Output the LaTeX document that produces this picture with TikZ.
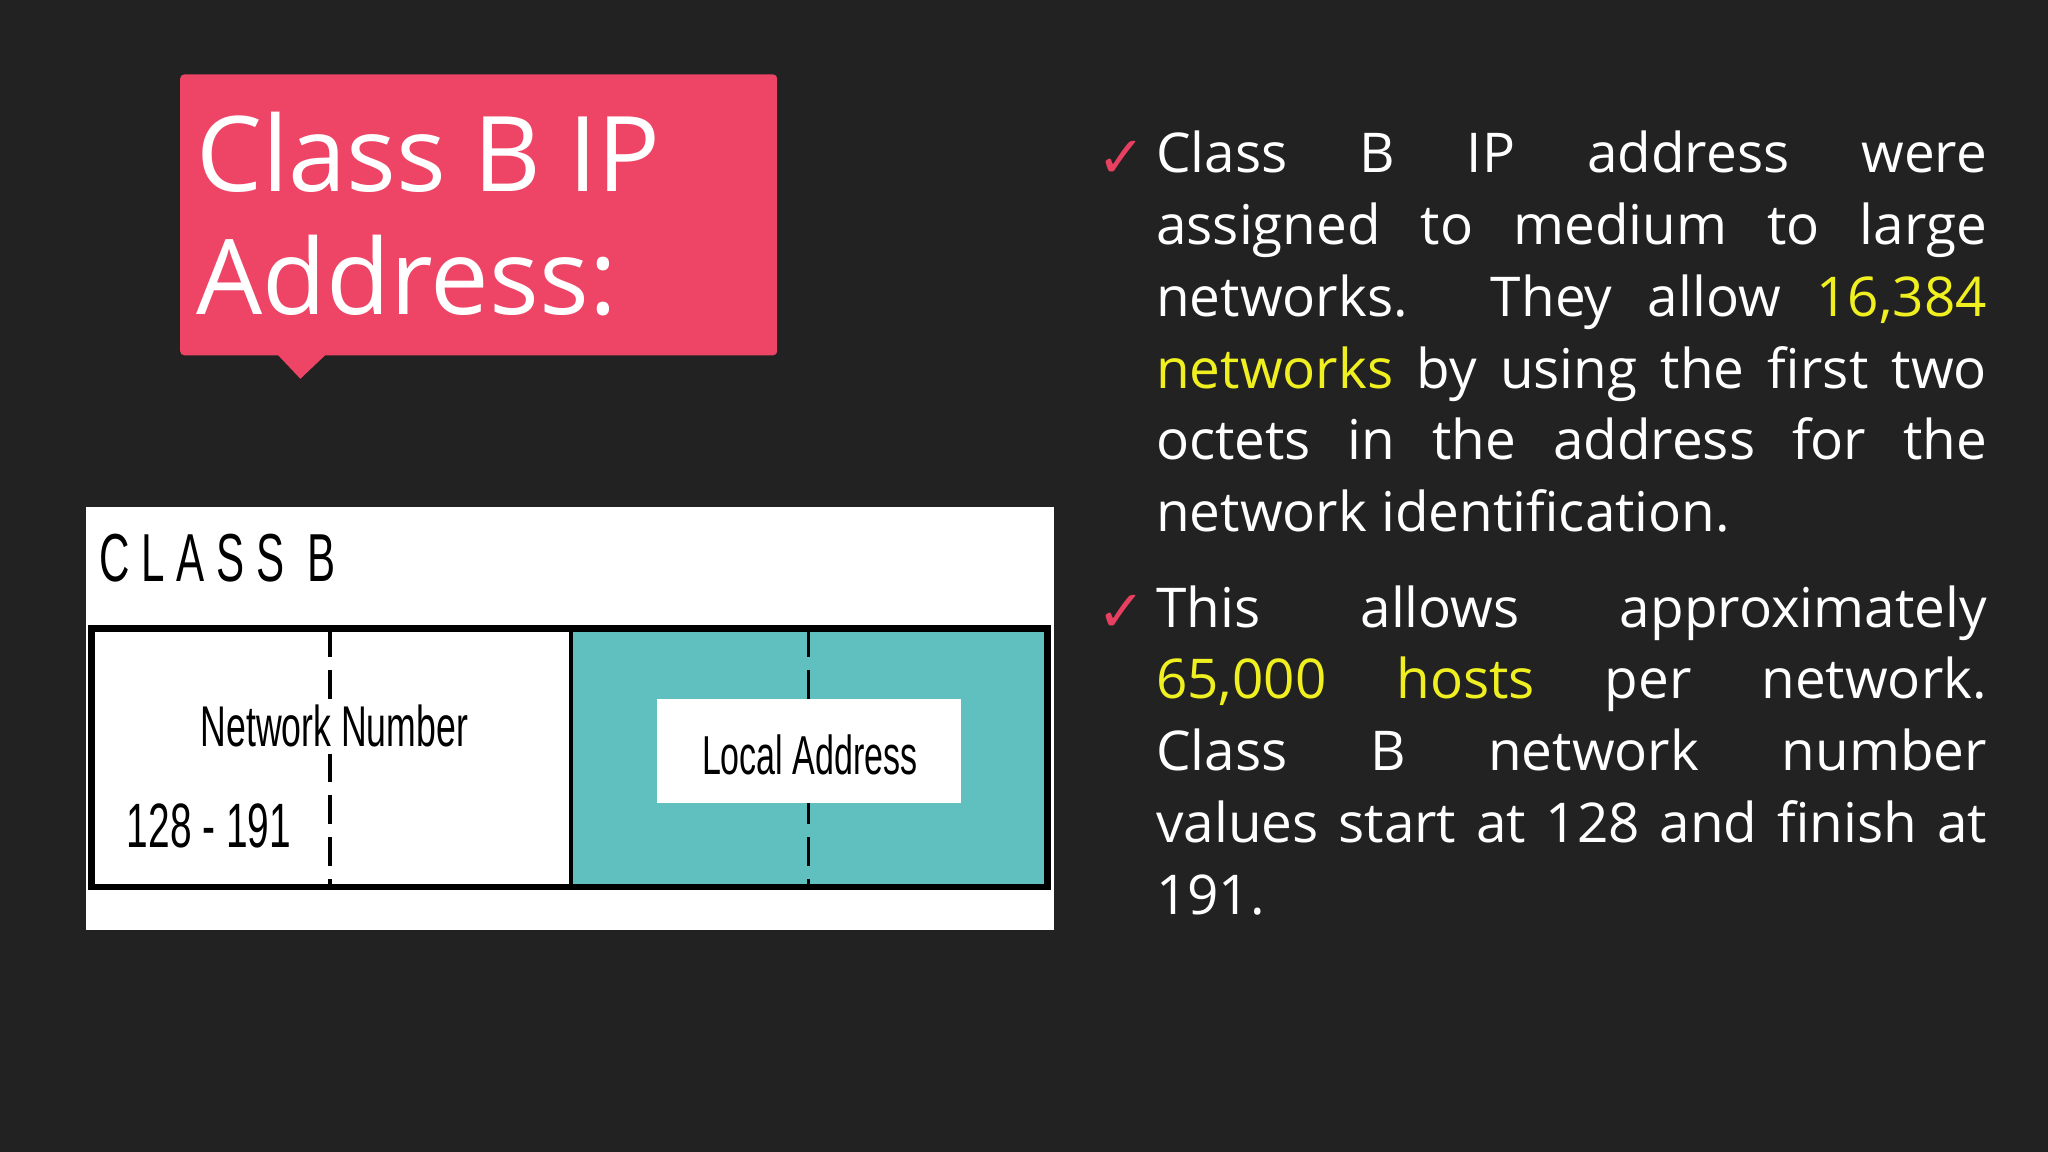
\documentclass[tikz,border=0pt]{standalone}
\usepackage{fontspec}
\setmainfont{Open Sans}
\newfontfamily\chk{DejaVu Sans}
\newfontfamily\narrow{Liberation Sans}[FakeStretch=0.62]
\definecolor{bg}{HTML}{222222}
\definecolor{pink}{HTML}{EE4466}
\definecolor{teal}{HTML}{60C0C0}
\definecolor{hl}{HTML}{F0F020}
\definecolor{chkred}{HTML}{E84060}
\tikzset{body/.style={anchor=north west,text=white,font=\fontsize{42}{55}\selectfont,text width=636pt,align=justify,inner sep=0pt},
 ck/.style={text=chkred,font=\chk\bfseries\fontsize{44}{44}\selectfont,inner sep=0pt}}
\begin{document}
\begin{tikzpicture}[x=1pt,y=-1pt]
\fill[bg] (0,0) rectangle (1568,882);
\useasboundingbox (0,0) rectangle (1568,882);
% title callout
\fill[pink,rounded corners=3pt] (138,57) rectangle (595,272);
\fill[pink] (212,271) -- (230,290) -- (250,271) -- cycle;
\node[anchor=north west,text=white,font=\fontsize{80}{94}\selectfont,inner sep=0pt,align=left] (title) at (150,86) {Class B IP\\Address:};
% diagram
\fill[white] (66,388) rectangle (807,712);
\node[anchor=west,font=\narrow\fontsize{52}{52}\selectfont,inner sep=0pt] (cls) at (76,427) {C L A S S\ \ B};
\fill[teal] (437,481) rectangle (802,679);
\draw[line width=5pt] (70,481) rectangle (802,679);
\draw[line width=3pt] (437,481) -- (437,679);
\draw[line width=3pt,dash pattern=on 22pt off 10pt] (253,481) -- (253,679);
\draw[line width=3pt,dash pattern=on 22pt off 10pt] (619,481) -- (619,679);
\fill[white] (503,535) rectangle (736,615);
\node[font=\narrow\fontsize{44}{44}\selectfont,inner sep=0pt,fill=white] (net) at (256,556) {Network Number};
\node[font=\narrow\fontsize{48}{48}\selectfont,inner sep=0pt] (rng) at (160,632) {128 - 191};
\node[font=\narrow\fontsize{42}{42}\selectfont,inner sep=0pt] (loc) at (620,578) {Local Address};
% text
\node[ck] (c1) at (859,122) {✓};
\node[body] (t1) at (885,100) {\hyphenpenalty=10000 Class B IP address were\linebreak assigned to medium to large\linebreak networks. They allow \textcolor{hl}{16,384}\linebreak \textcolor{hl}{networks} by using the first two\linebreak octets in the address for the\linebreak network identification.};
\node[ck] (c2) at (859,470) {✓};
\node[body] (t2) at (885,448) {\hyphenpenalty=10000 This allows approximately\linebreak \textcolor{hl}{65,000 hosts} per network.\linebreak Class B network number\linebreak values start at 128 and finish at\linebreak 191.};
\end{tikzpicture}
\end{document}
